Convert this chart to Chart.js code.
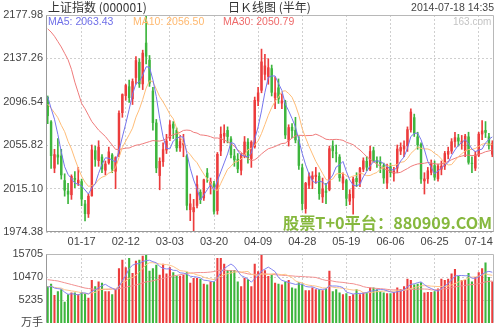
<!DOCTYPE html>
<html>
<head>
<meta charset="utf-8">
<script src="https://cdn.jsdelivr.net/npm/chart.js@4.4.1/dist/chart.umd.min.js"></script>
<style>
    body { margin: 0; background: #fff; width: 500px; height: 333px; overflow: hidden; position: relative; font-family: "Liberation Sans", Arial, "Noto Sans CJK SC", sans-serif; }
    #kChart { position: absolute; left: 0; top: 0; }
    #volChart { position: absolute; left: 0; top: 244px; }
    .txt { position: absolute; white-space: nowrap; }
    .cjk { font-family: "Noto Sans CJK SC", sans-serif; }
</style>
</head>
<body>
<canvas id="kChart" width="500" height="252"></canvas>
<canvas id="volChart" width="500" height="89"></canvas>

<div class="txt cjk" style="left:48px; top:0px; font-size:12px; line-height:14px; color:#333;">上证指数 (000001)</div>
<div class="txt cjk" style="left:228px; top:0px; font-size:12px; line-height:14px; color:#333;">日Ｋ线图 (半年)</div>
<div class="txt" style="right:6px; top:1px; font-size:10.5px; line-height:13px; color:#444;">2014-07-18 14:35</div>
<div class="txt" style="left:48px; top:15px; font-size:10.5px; line-height:13px; color:#6f6fe8;">MA5: 2063.43</div>
<div class="txt" style="left:133px; top:15px; font-size:10.5px; line-height:13px; color:#ffb86e;">MA10: 2056.50</div>
<div class="txt" style="left:223px; top:15px; font-size:10.5px; line-height:13px; color:#ee6a6a;">MA30: 2050.79</div>
<div class="txt" style="left:453px; top:15px; font-size:10px; line-height:13px; color:#c4c4c4;">163.com</div>
<div class="txt cjk" style="left:283px; top:212px; font-size:16.2px; line-height:20px; font-weight:bold; color:#86b83e;">股票T+0平台：880909.COM</div>

<script>
// trading days, 2014-01-03 .. 2014-07-18
const dates = ['01-03','01-06','01-07','01-08','01-09','01-10','01-13','01-14','01-15','01-16',
    '01-17','01-20','01-21','01-22','01-23','01-24','01-27','01-28','01-29','01-30',
    '02-07','02-10','02-11','02-12','02-13','02-14','02-17','02-18','02-19','02-20',
    '02-21','02-24','02-25','02-26','02-27','02-28','03-03','03-04','03-05','03-06',
    '03-07','03-10','03-11','03-12','03-13','03-14','03-17','03-18','03-19','03-20',
    '03-21','03-24','03-25','03-26','03-27','03-28','03-31','04-01','04-02','04-03',
    '04-04','04-08','04-09','04-10','04-11','04-14','04-15','04-16','04-17','04-18',
    '04-21','04-22','04-23','04-24','04-25','04-28','04-29','04-30','05-05','05-06',
    '05-07','05-08','05-09','05-12','05-13','05-14','05-15','05-16','05-19','05-20',
    '05-21','05-22','05-23','05-26','05-27','05-28','05-29','05-30','06-03','06-04',
    '06-05','06-06','06-09','06-10','06-11','06-12','06-13','06-16','06-17','06-18',
    '06-19','06-20','06-23','06-24','06-25','06-26','06-27','06-30','07-01','07-02',
    '07-03','07-04','07-07','07-08','07-09','07-10','07-11','07-14','07-15','07-16',
    '07-17','07-18'];

const tickDates = ['01-17','02-12','03-03','03-20','04-09','04-28','05-19','06-06','06-25','07-14'];
const priceTicks = [1974.38, 2015.10, 2055.82, 2096.54, 2137.26, 2177.98];
const volTicks = [0, 5235, 10470, 15705];

const opens = [2101,2078,2034,2047,2046,2023,2013,2009,2025,2020,
    2022,2001,1991,2008,2051,2041,2045,2032,2039,2047,
    2031,2047,2086,2102,2111,2099,2119,2134,2113,2152,
    2136,2107,2077,2027,2040,2051,2062,2076,2070,2053,
    2056,2046,1995,1993,1999,2012,2006,2030,2018,2020,
    1994,2050,2064,2070,2062,2046,2043,2032,2045,2059,
    2043,2054,2097,2107,2122,2120,2128,2100,2110,2095,
    2096,2060,2073,2070,2061,2035,1996,2018,2024,2026,
    2027,2007,2013,2014,2055,2049,2045,2020,2023,2003,
    2006,2025,2020,2033,2041,2033,2051,2042,2040,2037,
    2020,2036,2029,2034,2050,2052,2055,2070,2082,2064,
    2057,2022,2024,2030,2037,2024,2033,2036,2047,2050,
    2059,2063,2058,2050,2064,2039,2034,2046,2066,2070,
    2064,2047];

const highs = [2102,2079,2052,2062,2052,2029,2020,2028,2031,2035,
    2024,2004,2010,2056,2055,2060,2047,2041,2054,2048,
    2045,2088,2104,2113,2117,2118,2139,2137,2145,2177.98,
    2140,2110,2080,2044,2058,2066,2079,2078,2072,2065,
    2066,2047,2010,2005,2027,2014,2024,2034,2025,2022,
    2049,2073,2075,2073,2064,2052,2048,2048,2064,2062,
    2060,2101,2110,2146,2141,2137,2131,2120,2118,2104,
    2098,2075,2076,2082,2064,2038,2021,2030,2031,2035,
    2030,2025,2020,2055,2060,2056,2047,2030,2024,2014,
    2026,2030,2035,2044,2045,2055,2054,2045,2045,2039,
    2038,2039,2035,2056,2058,2060,2073,2090,2085,2068,
    2058,2030,2035,2042,2041,2038,2041,2050,2054,2062,
    2068,2066,2065,2066,2068,2045,2050,2068,2079,2078,
    2067,2060];

const lows = [2076,2034,2030,2038,2024,2008,2001,2005,2016,2018,
    1999,1984.82,1988,2008,2036,2036,2030,2028,2038,2030,
    2015,2045,2082,2098,2096,2094,2113,2110,2108,2132,
    2111,2070,2030,2014,2036,2048,2060,2062,2050,2050,
    2045,1995,1985,1974.38,1997,2001,2004,2021,2010,1991,
    1991,2046,2058,2058,2044,2036,2030,2028,2044,2039,
    2035,2053,2093,2105,2117,2113,2102,2090,2095,2090,
    2062,2055,2063,2058,2033,1995,1992,2015,2015,2020,
    2005,2002,2001,2013,2044,2040,2022,2014,1999,2000,
    1991,2017,2017,2031,2032,2032,2040,2035,2030,2020,
    2015,2026,2022,2030,2047,2045,2050,2068,2064,2052,
    2020,2010,2020,2028,2023,2022,2028,2033,2043,2048,
    2054,2055,2052,2045,2038,2030,2032,2045,2061,2063,
    2052,2045];

const closes = [2083.14,2045.71,2047.32,2044.34,2027.62,2013.30,2009.56,2026.84,2023.35,2023.34,
    2004.95,1991.25,2008.31,2051.75,2042.18,2054.39,2033.30,2038.51,2049.91,2033.08,
    2044.50,2086.00,2103.67,2112.13,2100.14,2115.85,2135.56,2113.00,2142.55,2139.00,
    2113.69,2076.69,2034.22,2041.00,2052.00,2060.00,2075.24,2071.47,2053.08,2059.58,
    2057.91,1999.06,2001.16,1997.69,2019.11,2004.34,2023.67,2025.20,2021.73,1993.48,
    2047.62,2066.28,2067.31,2063.67,2046.59,2041.71,2033.31,2047.46,2059.18,2043.69,
    2058.99,2098.28,2105.26,2134.30,2130.54,2128.85,2105.12,2105.17,2098.90,2097.75,
    2065.08,2072.71,2069.07,2060.39,2036.52,2000.73,2020.34,2026.36,2027.35,2028.04,
    2010.08,2015.27,2011.14,2052.87,2050.25,2047.91,2024.95,2026.50,2005.64,2010.01,
    2024.27,2021.29,2034.57,2041.48,2034.86,2050.22,2040.59,2039.21,2038.31,2024.78,
    2035.58,2029.71,2032.12,2052.53,2054.00,2055.40,2070.71,2087.32,2066.92,2055.95,
    2023.73,2024.48,2032.14,2038.70,2025.50,2036.51,2036.52,2048.33,2050.38,2059.42,
    2063.24,2059.38,2059.93,2064.61,2039.48,2038.33,2046.96,2066.52,2069.55,2067.49,
    2055.58,2058.00];

const ma5 = [2101.4,2090.4,2080.2,2065.8,2049.6,2035.6,2028.4,2024.4,2020.2,2019.2,
    2017.6,2013.8,2010,2015.8,2019.6,2029.4,2037.8,2044,2043.6,2041.8,
    2040,2050.6,2063.6,2076,2089.4,2103.6,2113.6,2115.4,2121.6,2129.4,
    2129,2117.2,2101.4,2081,2063.6,2052.8,2052.4,2059.8,2062.2,2063.8,
    2063.4,2048.2,2034.2,2023.2,2015,2004.2,2009.2,2014,2018.8,2013.6,
    2022.4,2030.8,2039.2,2047.6,2058.4,2057.2,2050.6,2046.6,2045.6,2045,
    2048.4,2061.4,2073,2088,2105.4,2119.4,2120.8,2120.8,2113.8,2107.2,
    2094.4,2088,2080.8,2073,2060.8,2048,2037.4,2028.8,2022.2,2020.4,
    2022.2,2021.2,2018.2,2023.4,2027.8,2035.4,2037.4,2040.6,2031.2,2023.2,
    2018.4,2017.6,2019.2,2026.2,2031.2,2036.4,2040.4,2041.2,2040.6,2038.6,
    2035.8,2033.6,2032.2,2035.2,2041,2044.8,2053,2064,2066.8,2067.2,
    2061,2051.6,2040.6,2035,2029,2031.6,2034.2,2037.4,2039.6,2046.2,
    2051.4,2055.8,2058.2,2061.2,2057.2,2052.2,2049.8,2051.2,2052.2,2057.8,
    2061.4,2063.6];

const ma10 = [2094.4,2090.5,2086.2,2081.6,2074.5,2068.5,2059.4,2052.3,2043,2034.4,
    2026.6,2021.1,2017.2,2018,2019.4,2023.5,2025.8,2027,2029.7,2030.7,
    2034.7,2044.2,2053.8,2059.8,2065.6,2071.8,2082.1,2089.5,2098.8,2109.4,
    2116.3,2115.4,2108.4,2101.3,2096.5,2090.9,2084.8,2080.6,2071.6,2063.7,
    2058.1,2050.3,2047,2042.7,2039.4,2033.8,2028.7,2024.1,2021,2014.3,
    2013.3,2020,2026.6,2033.2,2036,2039.8,2040.7,2042.9,2046.6,2051.7,
    2052.8,2056,2059.8,2066.8,2075.2,2083.9,2091.1,2096.9,2100.9,2106.3,
    2106.9,2104.4,2100.8,2093.4,2084,2071.2,2062.7,2054.8,2047.6,2040.6,
    2035.1,2029.3,2023.5,2022.8,2024.1,2028.8,2029.3,2029.4,2027.3,2025.5,
    2026.9,2027.5,2029.9,2028.7,2027.2,2027.4,2029,2030.2,2033.4,2034.9,
    2036.1,2037,2036.7,2037.9,2039.8,2040.3,2043.3,2048.1,2051,2054.1,
    2052.9,2052.3,2052.3,2050.9,2048.1,2046.3,2042.9,2039,2037.3,2037.6,
    2041.5,2045,2047.8,2050.4,2051.7,2051.8,2052.8,2054.7,2056.7,2057.5,
    2056.8,2056.7];

const ma30 = [2165,2162,2158,2153,2148,2142,2136,2127,2115,2105,
    2095,2090,2084,2078,2074,2070,2067,2064,2060,2056,
    2051.9,2051.9,2052.4,2053.1,2053.2,2054.6,2055.8,2056.3,2057.2,2058.2,
    2059.2,2060.2,2059.8,2059.7,2060.5,2062.1,2064.2,2065.7,2066.7,2067.9,
    2069.7,2070,2069.7,2067.9,2067.2,2065.5,2065.2,2064.7,2063.8,2062.5,
    2062.6,2061.9,2060.7,2059.1,2057.3,2054.8,2051.4,2049.2,2046.4,2043.2,
    2041.4,2042.1,2044.5,2047.6,2050.2,2052.5,2053.5,2054.6,2056.2,2057.4,
    2057.7,2060.1,2062.4,2064.5,2065.1,2065,2064.8,2064.9,2065,2066.2,
    2064.9,2063.2,2061.4,2061,2061.1,2061.3,2061,2060.4,2058.6,2057.5,
    2056.3,2053.7,2051.4,2048.3,2045.1,2042.5,2040.3,2038.1,2036.1,2033.7,
    2032.7,2031.3,2030,2029.8,2030.4,2032.2,2033.9,2035.9,2037.2,2038.2,
    2038.6,2038.9,2039.6,2039.2,2038.4,2038,2038.4,2039.1,2040.6,2042.2,
    2043.5,2044.8,2045.6,2046.4,2046.5,2046.1,2046.3,2047.3,2048.3,2049.7,
    2050.4,2051.3];

// volume, 万手
const volumes = [8400,9000,6400,7300,7700,4900,6600,7000,7000,6600,
    7100,6800,5800,9800,8400,9500,9200,7300,7300,6600,
    7700,12500,14400,12700,14800,11400,14200,14400,15300,15700,
    11900,12500,13300,11000,13500,11300,12700,11600,10800,10800,
    11000,11600,9200,10300,10300,10100,9000,8800,9500,9500,
    14800,14800,13500,12100,12000,12100,9500,8400,10300,10000,
    8400,13500,11800,15700,12000,10700,11000,9200,9000,8800,
    9500,9800,8100,7900,9300,9000,7500,7500,8100,7700,
    7700,7500,7900,11900,7300,7700,7000,6600,6800,6200,
    6600,7700,6600,7000,7000,8100,8100,7700,7300,7000,
    6800,6800,7100,8100,7700,8400,10100,9800,8800,9000,
    9300,7000,7100,7100,7300,7900,10100,9800,10100,11300,
    12300,10700,9800,9800,11400,9500,10500,11600,12500,13800,
    10500,9500];

const volMa5 = [8180,8420,8000,7860,7760,7060,6580,6700,6640,6420,
    6860,6900,6660,7220,7580,8060,8540,8840,8340,7980,
    7620,8280,9700,10780,12420,13160,13500,13500,14020,14200,
    14300,13960,13740,12880,12440,12320,12360,12020,11980,11440,
    11380,11160,10680,10580,10480,10300,9780,9700,9540,9380,
    10320,11480,12420,12940,13440,12900,11840,10820,10460,10060,
    9320,10120,10800,11880,12280,12740,12240,11720,10380,9740,
    9500,9260,9040,8820,8920,8820,8360,8240,8280,7960,
    7700,7700,7780,8540,8460,8460,8360,8100,7080,6860,
    6640,6780,6780,6820,6980,7280,7360,7580,7640,7640,
    7380,7120,7000,7160,7300,7620,8280,8820,8960,9220,
    9400,8780,8240,7900,7560,7280,7900,8440,9040,9840,
    10720,10840,10840,10780,10800,10240,10200,10560,11100,11580,
    11780,11580];

const volMa10 = [8340,8410,8150,8030,7980,7620,7500,7350,7250,7090,
    6960,6740,6680,6930,7000,7460,7720,7750,7780,7780,
    7840,8410,9270,9560,10200,10390,10890,11600,12400,13310,
    13730,13730,13620,13450,13320,13310,13160,12880,12430,11940,
    11850,11760,11350,11280,10960,10840,10470,10190,10060,9930,
    10310,10630,11060,11240,11410,11610,11660,11620,11700,11750,
    11110,10980,10810,11170,11170,11030,11180,11260,11130,11010,
    11120,10750,10380,9600,9330,9160,8810,8640,8550,8440,
    8260,8030,8010,8410,8210,8080,8030,7940,7810,7660,
    7550,7570,7440,6950,6920,6960,7070,7180,7230,7310,
    7330,7240,7290,7400,7470,7500,7700,7910,8060,8260,
    8510,8530,8530,8430,8390,8340,8340,8340,8470,8700,
    9000,9370,9640,9910,10320,10480,10520,10700,10940,11190,
    11010,10890];

const volMa30 = [9900,9800,9700,9600,9400,9200,9000,8800,8600,8400,
    8200,8000,7900,7800,7700,7700,7700,7700,7700,7800,
    7710,7850,8030,8170,8390,8490,8700,8900,9140,9390,
    9510,9630,9860,9980,10170,10390,10590,10740,10870,11010,
    11140,11300,11410,11430,11490,11510,11510,11560,11630,11730,
    11960,12040,12010,11990,11900,11920,11760,11560,11400,11210,
    11090,11120,11070,11230,11180,11160,11100,11020,10960,10900,
    10850,10790,10750,10670,10640,10600,10550,10510,10460,10400,
    10160,9920,9730,9730,9570,9420,9340,9280,9160,9040,
    8980,8780,8610,8320,8150,8070,7970,7920,7860,7800,
    7710,7610,7580,7590,7530,7510,7600,7680,7700,7740,
    7800,7780,7750,7590,7590,7600,7700,7810,7920,8090,
    8280,8380,8490,8580,8730,8770,8850,8980,9160,9380,
    9510,9600];

const RED = '#ec3c3c';
const GREEN = '#3db53d';
const FONT = '"Liberation Sans", Arial, "Noto Sans CJK SC", sans-serif';

const tickIdx = new Set(tickDates.map(d => dates.indexOf(d)));
const candleColors = closes.map((c, i) => c >= opens[i] ? RED : GREEN);

// grey frame round the plot area
const frame = {
    id: 'frame',
    afterDraw(chart, args, opts) {
        const { ctx, chartArea: a } = chart;
        const l = Math.round(a.left) + 0.5, r = Math.round(a.right) - 0.5;
        const t = Math.round(a.top) + 0.5, b = Math.round(a.bottom) - 0.5;
        ctx.save();
        ctx.lineWidth = 1;
        ctx.strokeStyle = '#b8b8b8';
        ctx.beginPath();
        ctx.moveTo(l, t); ctx.lineTo(r, t); ctx.lineTo(r, b);
        if (opts.bottom) ctx.lineTo(l, b);
        ctx.stroke();
        ctx.strokeStyle = '#999';
        ctx.beginPath();
        ctx.moveTo(l, t); ctx.lineTo(l, b);
        if (opts.bottom) ctx.lineTo(r, b);
        ctx.stroke();
        ctx.restore();
    }
};

function maLine(data, color) {
    return { type: 'line', data: data, borderColor: color, borderWidth: 1, pointRadius: 0, tension: 0 };
}

const xGrid = {
    offset: false,
    drawTicks: false,
    color: ctx => tickIdx.has(ctx.index) ? '#cfcfcf' : 'rgba(0,0,0,0)'
};

new Chart(document.getElementById('kChart'), {
    type: 'bar',
    data: {
        labels: dates,
        datasets: [
            maLine(ma5, '#7676ee'),
            maLine(ma10, '#ffbd78'),
            maLine(ma30, '#ef7b7b'),
            {
                data: opens.map((o, i) => [o, closes[i]]),
                backgroundColor: candleColors,
                barPercentage: 0.72,
                categoryPercentage: 1,
                grouped: false,
                minBarLength: 1
            },
            {
                data: lows.map((l, i) => [l, highs[i]]),
                backgroundColor: candleColors,
                barThickness: 1,
                grouped: false
            }
        ]
    },
    options: {
        responsive: false,
        animation: false,
        devicePixelRatio: 1,
        layout: { padding: { top: 15, right: 6 } },
        plugins: { legend: { display: false }, tooltip: { enabled: false }, frame: { bottom: true } },
        scales: {
            x: {
                offset: true,
                grid: xGrid,
                border: { display: false, dash: [2, 2] },
                ticks: {
                    autoSkip: false,
                    maxRotation: 0,
                    padding: 3,
                    color: '#444',
                    font: { family: FONT, size: 11 },
                    callback: (v, i) => tickIdx.has(i) ? dates[i] : ''
                },
                afterFit: s => { s.height = 20; }
            },
            y: {
                min: priceTicks[0],
                max: priceTicks[priceTicks.length - 1],
                afterBuildTicks: s => { s.ticks = priceTicks.map(v => ({ value: v })); },
                afterFit: s => { s.width = 46; },
                grid: { color: '#cfcfcf', drawTicks: false },
                border: { display: false, dash: [2, 2] },
                ticks: {
                    padding: 3,
                    color: '#444',
                    font: { family: FONT, size: 11 },
                    callback: v => Number(v).toFixed(2)
                }
            }
        }
    },
    plugins: [frame]
});

new Chart(document.getElementById('volChart'), {
    type: 'bar',
    data: {
        labels: dates,
        datasets: [
            maLine(volMa5, '#8585f0'),
            maLine(volMa10, '#ffc488'),
            maLine(volMa30, '#f29090'),
            {
                data: volumes,
                backgroundColor: candleColors,
                barPercentage: 0.62,
                categoryPercentage: 1
            }
        ]
    },
    options: {
        responsive: false,
        animation: false,
        devicePixelRatio: 1,
        layout: { padding: { top: 10, right: 6 } },
        plugins: { legend: { display: false }, tooltip: { enabled: false }, frame: { bottom: false } },
        scales: {
            x: {
                offset: true,
                grid: xGrid,
                border: { display: false, dash: [2, 2] },
                ticks: { display: false },
                afterFit: s => { s.height = 8.5; }
            },
            y: {
                min: 0,
                max: volTicks[volTicks.length - 1],
                afterBuildTicks: s => { s.ticks = volTicks.map(v => ({ value: v })); },
                afterFit: s => { s.width = 46; },
                grid: {
                    drawTicks: false,
                    color: ctx => (ctx.tick && ctx.tick.value > 0) ? '#cfcfcf' : 'rgba(0,0,0,0)'
                },
                border: { display: false, dash: [2, 2] },
                ticks: {
                    padding: 3,
                    color: '#444',
                    font: { family: FONT, size: 11 },
                    callback: v => v === 0 ? '万手' : String(v)
                }
            }
        }
    },
    plugins: [frame]
});
</script>
</body>
</html>
